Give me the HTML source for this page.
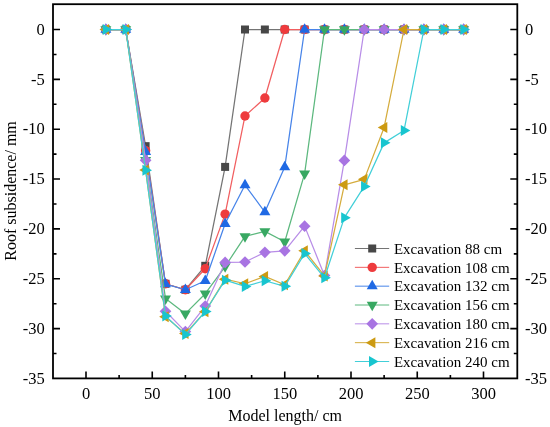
<!DOCTYPE html>
<html><head><meta charset="utf-8"><title>Roof subsidence</title>
<style>html,body{margin:0;padding:0;background:#fff;}body{width:550px;height:427px;overflow:hidden;}svg{display:block;}text{font-family:"Liberation Serif","Times New Roman",serif;fill:#000;}</style></head><body>
<svg width="550" height="427" viewBox="0 0 550 427">
<rect width="550" height="427" fill="#fff"/>
<polyline points="105.88,29.50 125.75,29.50 145.62,146.16 165.50,283.76 185.38,289.74 205.25,265.81 225.12,166.90 245.00,29.50 264.88,29.50 284.75,29.50 304.62,29.50 324.50,29.50 344.38,29.50 364.25,29.50 384.12,29.50 404.00,29.50 423.88,29.50 443.75,29.50 463.62,29.50" fill="none" stroke="#747474" stroke-width="1.25" stroke-linejoin="round"/>
<rect x="101.88" y="25.50" width="8.00" height="8.00" fill="#474747"/>
<rect x="121.75" y="25.50" width="8.00" height="8.00" fill="#474747"/>
<rect x="141.62" y="142.16" width="8.00" height="8.00" fill="#474747"/>
<rect x="161.50" y="279.76" width="8.00" height="8.00" fill="#474747"/>
<rect x="181.38" y="285.74" width="8.00" height="8.00" fill="#474747"/>
<rect x="201.25" y="261.81" width="8.00" height="8.00" fill="#474747"/>
<rect x="221.12" y="162.90" width="8.00" height="8.00" fill="#474747"/>
<rect x="241.00" y="25.50" width="8.00" height="8.00" fill="#474747"/>
<rect x="260.88" y="25.50" width="8.00" height="8.00" fill="#474747"/>
<rect x="280.75" y="25.50" width="8.00" height="8.00" fill="#474747"/>
<rect x="300.62" y="25.50" width="8.00" height="8.00" fill="#474747"/>
<rect x="320.50" y="25.50" width="8.00" height="8.00" fill="#474747"/>
<rect x="340.38" y="25.50" width="8.00" height="8.00" fill="#474747"/>
<rect x="360.25" y="25.50" width="8.00" height="8.00" fill="#474747"/>
<rect x="380.12" y="25.50" width="8.00" height="8.00" fill="#474747"/>
<rect x="400.00" y="25.50" width="8.00" height="8.00" fill="#474747"/>
<rect x="419.88" y="25.50" width="8.00" height="8.00" fill="#474747"/>
<rect x="439.75" y="25.50" width="8.00" height="8.00" fill="#474747"/>
<rect x="459.62" y="25.50" width="8.00" height="8.00" fill="#474747"/>
<polyline points="105.88,29.50 125.75,29.50 145.62,150.65 165.50,283.76 185.38,289.74 205.25,268.70 225.12,214.16 245.00,115.95 264.88,98.00 284.75,29.50 304.62,29.50 324.50,29.50 344.38,29.50 364.25,29.50 384.12,29.50 404.00,29.50 423.88,29.50 443.75,29.50 463.62,29.50" fill="none" stroke="#f15e60" stroke-width="1.25" stroke-linejoin="round"/>
<circle cx="105.88" cy="29.50" r="4.7" fill="#ee3b3d"/>
<circle cx="125.75" cy="29.50" r="4.7" fill="#ee3b3d"/>
<circle cx="145.62" cy="150.65" r="4.7" fill="#ee3b3d"/>
<circle cx="165.50" cy="283.76" r="4.7" fill="#ee3b3d"/>
<circle cx="185.38" cy="289.74" r="4.7" fill="#ee3b3d"/>
<circle cx="205.25" cy="268.70" r="4.7" fill="#ee3b3d"/>
<circle cx="225.12" cy="214.16" r="4.7" fill="#ee3b3d"/>
<circle cx="245.00" cy="115.95" r="4.7" fill="#ee3b3d"/>
<circle cx="264.88" cy="98.00" r="4.7" fill="#ee3b3d"/>
<circle cx="284.75" cy="29.50" r="4.7" fill="#ee3b3d"/>
<circle cx="304.62" cy="29.50" r="4.7" fill="#ee3b3d"/>
<circle cx="324.50" cy="29.50" r="4.7" fill="#ee3b3d"/>
<circle cx="344.38" cy="29.50" r="4.7" fill="#ee3b3d"/>
<circle cx="364.25" cy="29.50" r="4.7" fill="#ee3b3d"/>
<circle cx="384.12" cy="29.50" r="4.7" fill="#ee3b3d"/>
<circle cx="404.00" cy="29.50" r="4.7" fill="#ee3b3d"/>
<circle cx="423.88" cy="29.50" r="4.7" fill="#ee3b3d"/>
<circle cx="443.75" cy="29.50" r="4.7" fill="#ee3b3d"/>
<circle cx="463.62" cy="29.50" r="4.7" fill="#ee3b3d"/>
<polyline points="105.88,29.50 125.75,29.50 145.62,151.74 165.50,284.06 185.38,289.74 205.25,280.77 225.12,223.74 245.00,185.05 264.88,212.07 284.75,167.10 304.62,29.50 324.50,29.50 344.38,29.50 364.25,29.50 384.12,29.50 404.00,29.50 423.88,29.50 443.75,29.50 463.62,29.50" fill="none" stroke="#4784e9" stroke-width="1.25" stroke-linejoin="round"/>
<path d="M105.88,23.15L111.38,32.68L100.38,32.68Z" fill="#1f69e4"/>
<path d="M125.75,23.15L131.25,32.68L120.25,32.68Z" fill="#1f69e4"/>
<path d="M145.62,145.39L151.12,154.92L140.12,154.92Z" fill="#1f69e4"/>
<path d="M165.50,277.71L171.00,287.24L160.00,287.24Z" fill="#1f69e4"/>
<path d="M185.38,283.39L190.88,292.92L179.88,292.92Z" fill="#1f69e4"/>
<path d="M205.25,274.42L210.75,283.95L199.75,283.95Z" fill="#1f69e4"/>
<path d="M225.12,217.39L230.62,226.92L219.62,226.92Z" fill="#1f69e4"/>
<path d="M245.00,178.70L250.50,188.23L239.50,188.23Z" fill="#1f69e4"/>
<path d="M264.88,205.72L270.38,215.25L259.38,215.25Z" fill="#1f69e4"/>
<path d="M284.75,160.75L290.25,170.28L279.25,170.28Z" fill="#1f69e4"/>
<path d="M304.62,23.15L310.12,32.68L299.12,32.68Z" fill="#1f69e4"/>
<path d="M324.50,23.15L330.00,32.68L319.00,32.68Z" fill="#1f69e4"/>
<path d="M344.38,23.15L349.88,32.68L338.88,32.68Z" fill="#1f69e4"/>
<path d="M364.25,23.15L369.75,32.68L358.75,32.68Z" fill="#1f69e4"/>
<path d="M384.12,23.15L389.62,32.68L378.62,32.68Z" fill="#1f69e4"/>
<path d="M404.00,23.15L409.50,32.68L398.50,32.68Z" fill="#1f69e4"/>
<path d="M423.88,23.15L429.38,32.68L418.38,32.68Z" fill="#1f69e4"/>
<path d="M443.75,23.15L449.25,32.68L438.25,32.68Z" fill="#1f69e4"/>
<path d="M463.62,23.15L469.12,32.68L458.12,32.68Z" fill="#1f69e4"/>
<polyline points="105.88,29.50 125.75,29.50 145.62,160.12 165.50,298.62 185.38,313.67 205.25,293.73 225.12,266.51 245.00,236.40 264.88,231.41 284.75,241.78 304.62,173.68 324.50,29.50 344.38,29.50 364.25,29.50 384.12,29.50 404.00,29.50 423.88,29.50 443.75,29.50 463.62,29.50" fill="none" stroke="#5cb87e" stroke-width="1.25" stroke-linejoin="round"/>
<path d="M105.88,35.85L111.38,26.32L100.38,26.32Z" fill="#38a862"/>
<path d="M125.75,35.85L131.25,26.32L120.25,26.32Z" fill="#38a862"/>
<path d="M145.62,166.47L151.12,156.94L140.12,156.94Z" fill="#38a862"/>
<path d="M165.50,304.97L171.00,295.44L160.00,295.44Z" fill="#38a862"/>
<path d="M185.38,320.02L190.88,310.49L179.88,310.49Z" fill="#38a862"/>
<path d="M205.25,300.08L210.75,290.55L199.75,290.55Z" fill="#38a862"/>
<path d="M225.12,272.86L230.62,263.33L219.62,263.33Z" fill="#38a862"/>
<path d="M245.00,242.75L250.50,233.22L239.50,233.22Z" fill="#38a862"/>
<path d="M264.88,237.76L270.38,228.23L259.38,228.23Z" fill="#38a862"/>
<path d="M284.75,248.13L290.25,238.60L279.25,238.60Z" fill="#38a862"/>
<path d="M304.62,180.03L310.12,170.50L299.12,170.50Z" fill="#38a862"/>
<path d="M324.50,35.85L330.00,26.32L319.00,26.32Z" fill="#38a862"/>
<path d="M344.38,35.85L349.88,26.32L338.88,26.32Z" fill="#38a862"/>
<path d="M364.25,35.85L369.75,26.32L358.75,26.32Z" fill="#38a862"/>
<path d="M384.12,35.85L389.62,26.32L378.62,26.32Z" fill="#38a862"/>
<path d="M404.00,35.85L409.50,26.32L398.50,26.32Z" fill="#38a862"/>
<path d="M423.88,35.85L429.38,26.32L418.38,26.32Z" fill="#38a862"/>
<path d="M443.75,35.85L449.25,26.32L438.25,26.32Z" fill="#38a862"/>
<path d="M463.62,35.85L469.12,26.32L458.12,26.32Z" fill="#38a862"/>
<polyline points="105.88,29.50 125.75,29.50 145.62,160.32 165.50,311.28 185.38,331.62 205.25,306.10 225.12,262.42 245.00,262.02 264.88,252.35 284.75,250.86 304.62,226.13 324.50,275.48 344.38,160.42 364.25,29.50 384.12,29.50 404.00,29.50 423.88,29.50 443.75,29.50 463.62,29.50" fill="none" stroke="#b88de7" stroke-width="1.25" stroke-linejoin="round"/>
<path d="M105.88,23.65L111.72,29.50L105.88,35.35L100.03,29.50Z" fill="#a874e2"/>
<path d="M125.75,23.65L131.60,29.50L125.75,35.35L119.90,29.50Z" fill="#a874e2"/>
<path d="M145.62,154.47L151.47,160.32L145.62,166.17L139.78,160.32Z" fill="#a874e2"/>
<path d="M165.50,305.43L171.35,311.28L165.50,317.13L159.65,311.28Z" fill="#a874e2"/>
<path d="M185.38,325.77L191.22,331.62L185.38,337.47L179.53,331.62Z" fill="#a874e2"/>
<path d="M205.25,300.25L211.10,306.10L205.25,311.95L199.40,306.10Z" fill="#a874e2"/>
<path d="M225.12,256.57L230.97,262.42L225.12,268.27L219.28,262.42Z" fill="#a874e2"/>
<path d="M245.00,256.17L250.85,262.02L245.00,267.87L239.15,262.02Z" fill="#a874e2"/>
<path d="M264.88,246.50L270.73,252.35L264.88,258.20L259.02,252.35Z" fill="#a874e2"/>
<path d="M284.75,245.01L290.60,250.86L284.75,256.71L278.90,250.86Z" fill="#a874e2"/>
<path d="M304.62,220.28L310.48,226.13L304.62,231.98L298.77,226.13Z" fill="#a874e2"/>
<path d="M324.50,269.63L330.35,275.48L324.50,281.33L318.65,275.48Z" fill="#a874e2"/>
<path d="M344.38,154.57L350.23,160.42L344.38,166.27L338.52,160.42Z" fill="#a874e2"/>
<path d="M364.25,23.65L370.10,29.50L364.25,35.35L358.40,29.50Z" fill="#a874e2"/>
<path d="M384.12,23.65L389.98,29.50L384.12,35.35L378.27,29.50Z" fill="#a874e2"/>
<path d="M404.00,23.65L409.85,29.50L404.00,35.35L398.15,29.50Z" fill="#a874e2"/>
<path d="M423.88,23.65L429.73,29.50L423.88,35.35L418.02,29.50Z" fill="#a874e2"/>
<path d="M443.75,23.65L449.60,29.50L443.75,35.35L437.90,29.50Z" fill="#a874e2"/>
<path d="M463.62,23.65L469.48,29.50L463.62,35.35L457.77,29.50Z" fill="#a874e2"/>
<polyline points="105.88,29.50 125.75,29.50 145.62,170.09 165.50,316.66 185.38,333.62 205.25,311.68 225.12,279.17 245.00,283.76 264.88,276.38 284.75,284.76 304.62,250.86 324.50,275.98 344.38,184.85 364.25,179.36 384.12,127.42 404.00,29.50 423.88,29.50 443.75,29.50 463.62,29.50" fill="none" stroke="#d5ac3d" stroke-width="1.25" stroke-linejoin="round"/>
<path d="M99.53,29.50L109.06,24.00L109.06,35.00Z" fill="#cc9a12"/>
<path d="M119.40,29.50L128.93,24.00L128.93,35.00Z" fill="#cc9a12"/>
<path d="M139.28,170.09L148.81,164.59L148.81,175.59Z" fill="#cc9a12"/>
<path d="M159.15,316.66L168.68,311.16L168.68,322.16Z" fill="#cc9a12"/>
<path d="M179.03,333.62L188.56,328.12L188.56,339.12Z" fill="#cc9a12"/>
<path d="M198.90,311.68L208.43,306.18L208.43,317.18Z" fill="#cc9a12"/>
<path d="M218.78,279.17L228.31,273.67L228.31,284.67Z" fill="#cc9a12"/>
<path d="M238.65,283.76L248.18,278.26L248.18,289.26Z" fill="#cc9a12"/>
<path d="M258.52,276.38L268.06,270.88L268.06,281.88Z" fill="#cc9a12"/>
<path d="M278.40,284.76L287.93,279.26L287.93,290.26Z" fill="#cc9a12"/>
<path d="M298.27,250.86L307.81,245.36L307.81,256.36Z" fill="#cc9a12"/>
<path d="M318.15,275.98L327.68,270.48L327.68,281.48Z" fill="#cc9a12"/>
<path d="M338.02,184.85L347.56,179.35L347.56,190.35Z" fill="#cc9a12"/>
<path d="M357.90,179.36L367.43,173.86L367.43,184.86Z" fill="#cc9a12"/>
<path d="M377.77,127.42L387.31,121.92L387.31,132.92Z" fill="#cc9a12"/>
<path d="M397.65,29.50L407.18,24.00L407.18,35.00Z" fill="#cc9a12"/>
<path d="M417.52,29.50L427.06,24.00L427.06,35.00Z" fill="#cc9a12"/>
<path d="M437.40,29.50L446.93,24.00L446.93,35.00Z" fill="#cc9a12"/>
<path d="M457.27,29.50L466.81,24.00L466.81,35.00Z" fill="#cc9a12"/>
<polyline points="105.88,29.50 125.75,29.50 145.62,170.29 165.50,315.97 185.38,334.61 205.25,311.48 225.12,280.17 245.00,286.45 264.88,280.77 284.75,286.35 304.62,253.55 324.50,277.78 344.38,217.65 364.25,186.44 384.12,142.87 404.00,130.51 423.88,29.50 443.75,29.50 463.62,29.50" fill="none" stroke="#42cfd8" stroke-width="1.25" stroke-linejoin="round"/>
<path d="M112.22,29.50L102.69,24.00L102.69,35.00Z" fill="#18c5cf"/>
<path d="M132.10,29.50L122.57,24.00L122.57,35.00Z" fill="#18c5cf"/>
<path d="M151.97,170.29L142.44,164.79L142.44,175.79Z" fill="#18c5cf"/>
<path d="M171.85,315.97L162.32,310.47L162.32,321.47Z" fill="#18c5cf"/>
<path d="M191.72,334.61L182.19,329.11L182.19,340.11Z" fill="#18c5cf"/>
<path d="M211.60,311.48L202.07,305.98L202.07,316.98Z" fill="#18c5cf"/>
<path d="M231.47,280.17L221.94,274.67L221.94,285.67Z" fill="#18c5cf"/>
<path d="M251.35,286.45L241.82,280.95L241.82,291.95Z" fill="#18c5cf"/>
<path d="M271.23,280.77L261.69,275.27L261.69,286.27Z" fill="#18c5cf"/>
<path d="M291.10,286.35L281.57,280.85L281.57,291.85Z" fill="#18c5cf"/>
<path d="M310.98,253.55L301.44,248.05L301.44,259.05Z" fill="#18c5cf"/>
<path d="M330.85,277.78L321.32,272.28L321.32,283.28Z" fill="#18c5cf"/>
<path d="M350.73,217.65L341.19,212.15L341.19,223.15Z" fill="#18c5cf"/>
<path d="M370.60,186.44L361.07,180.94L361.07,191.94Z" fill="#18c5cf"/>
<path d="M390.48,142.87L380.94,137.37L380.94,148.37Z" fill="#18c5cf"/>
<path d="M410.35,130.51L400.82,125.01L400.82,136.01Z" fill="#18c5cf"/>
<path d="M430.23,29.50L420.69,24.00L420.69,35.00Z" fill="#18c5cf"/>
<path d="M450.10,29.50L440.57,24.00L440.57,35.00Z" fill="#18c5cf"/>
<path d="M469.98,29.50L460.44,24.00L460.44,35.00Z" fill="#18c5cf"/>
<rect x="53.0" y="4.2" width="464.30" height="374.20" fill="none" stroke="#000" stroke-width="1.8"/>
<path d="M53.0,29.50h7M517.3,29.50h-7M53.0,79.36h7M517.3,79.36h-7M53.0,129.21h7M517.3,129.21h-7M53.0,179.06h7M517.3,179.06h-7M53.0,228.92h7M517.3,228.92h-7M53.0,278.77h7M517.3,278.77h-7M53.0,328.63h7M517.3,328.63h-7M53.0,54.43h3.5M517.3,54.43h-3.5M53.0,104.28h3.5M517.3,104.28h-3.5M53.0,154.14h3.5M517.3,154.14h-3.5M53.0,203.99h3.5M517.3,203.99h-3.5M53.0,253.85h3.5M517.3,253.85h-3.5M53.0,303.70h3.5M517.3,303.70h-3.5M53.0,353.56h3.5M517.3,353.56h-3.5M86.00,378.4v-7M152.25,378.4v-7M218.50,378.4v-7M284.75,378.4v-7M351.00,378.4v-7M417.25,378.4v-7M483.50,378.4v-7M119.12,378.4v-3.5M185.38,378.4v-3.5M251.62,378.4v-3.5M317.88,378.4v-3.5M384.12,378.4v-3.5M450.38,378.4v-3.5" stroke="#000" stroke-width="1.6" fill="none"/>
<text x="44.7" y="34.70" font-size="16.5" text-anchor="end">0</text>
<text x="525.0" y="34.70" font-size="16.5">0</text>
<text x="44.7" y="84.56" font-size="16.5" text-anchor="end">-5</text>
<text x="525.0" y="84.56" font-size="16.5">-5</text>
<text x="44.7" y="134.41" font-size="16.5" text-anchor="end">-10</text>
<text x="525.0" y="134.41" font-size="16.5">-10</text>
<text x="44.7" y="184.26" font-size="16.5" text-anchor="end">-15</text>
<text x="525.0" y="184.26" font-size="16.5">-15</text>
<text x="44.7" y="234.12" font-size="16.5" text-anchor="end">-20</text>
<text x="525.0" y="234.12" font-size="16.5">-20</text>
<text x="44.7" y="283.97" font-size="16.5" text-anchor="end">-25</text>
<text x="525.0" y="283.97" font-size="16.5">-25</text>
<text x="44.7" y="333.83" font-size="16.5" text-anchor="end">-30</text>
<text x="525.0" y="333.83" font-size="16.5">-30</text>
<text x="44.7" y="383.69" font-size="16.5" text-anchor="end">-35</text>
<text x="525.0" y="383.69" font-size="16.5">-35</text>
<text x="86.00" y="399.4" font-size="16.5" text-anchor="middle">0</text>
<text x="152.25" y="399.4" font-size="16.5" text-anchor="middle">50</text>
<text x="218.50" y="399.4" font-size="16.5" text-anchor="middle">100</text>
<text x="284.75" y="399.4" font-size="16.5" text-anchor="middle">150</text>
<text x="351.00" y="399.4" font-size="16.5" text-anchor="middle">200</text>
<text x="417.25" y="399.4" font-size="16.5" text-anchor="middle">250</text>
<text x="483.50" y="399.4" font-size="16.5" text-anchor="middle">300</text>
<text x="285.1" y="420.9" font-size="16" text-anchor="middle">Model length/ cm</text>
<text transform="translate(16.1,191) rotate(-90)" x="0" y="0" font-size="16" text-anchor="middle">Roof subsidence/ mm</text>
<line x1="354.9" y1="248.50" x2="389.2" y2="248.50" stroke="#747474" stroke-width="1"/>
<rect x="368.20" y="244.50" width="8.00" height="8.00" fill="#474747"/>
<text transform="translate(393.9,253.70) scale(0.968,1)" font-size="15.5">Excavation 88 cm</text>
<line x1="354.9" y1="267.33" x2="389.2" y2="267.33" stroke="#f15e60" stroke-width="1"/>
<circle cx="372.20" cy="267.33" r="4.7" fill="#ee3b3d"/>
<text transform="translate(393.9,272.53) scale(0.968,1)" font-size="15.5">Excavation 108 cm</text>
<line x1="354.9" y1="286.17" x2="389.2" y2="286.17" stroke="#4784e9" stroke-width="1"/>
<path d="M372.20,279.82L377.70,289.35L366.70,289.35Z" fill="#1f69e4"/>
<text transform="translate(393.9,291.37) scale(0.968,1)" font-size="15.5">Excavation 132 cm</text>
<line x1="354.9" y1="305.00" x2="389.2" y2="305.00" stroke="#5cb87e" stroke-width="1"/>
<path d="M372.20,311.35L377.70,301.82L366.70,301.82Z" fill="#38a862"/>
<text transform="translate(393.9,310.20) scale(0.968,1)" font-size="15.5">Excavation 156 cm</text>
<line x1="354.9" y1="323.83" x2="389.2" y2="323.83" stroke="#b88de7" stroke-width="1"/>
<path d="M372.20,317.98L378.05,323.83L372.20,329.68L366.35,323.83Z" fill="#a874e2"/>
<text transform="translate(393.9,329.03) scale(0.968,1)" font-size="15.5">Excavation 180 cm</text>
<line x1="354.9" y1="342.66" x2="389.2" y2="342.66" stroke="#d5ac3d" stroke-width="1"/>
<path d="M365.85,342.66L375.38,337.16L375.38,348.16Z" fill="#cc9a12"/>
<text transform="translate(393.9,347.86) scale(0.968,1)" font-size="15.5">Excavation 216 cm</text>
<line x1="354.9" y1="361.50" x2="389.2" y2="361.50" stroke="#42cfd8" stroke-width="1"/>
<path d="M378.55,361.50L369.02,356.00L369.02,367.00Z" fill="#18c5cf"/>
<text transform="translate(393.9,366.70) scale(0.968,1)" font-size="15.5">Excavation 240 cm</text>
</svg></body></html>
